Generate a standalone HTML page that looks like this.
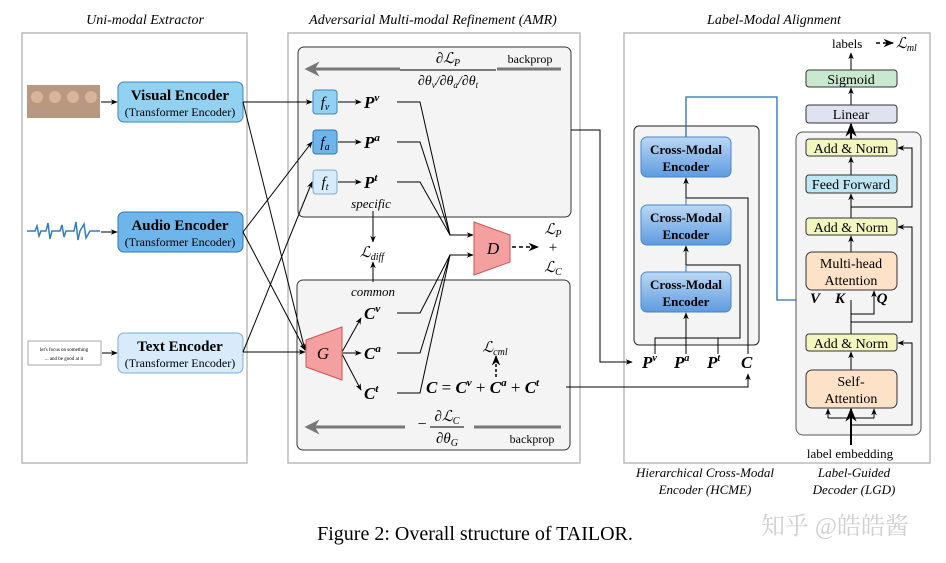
<!DOCTYPE html>
<html><head><meta charset="utf-8"><style>
body{margin:0;background:#fff}
svg{display:block}
text{font-family:"Liberation Serif","Noto Serif CJK SC",serif}
.it{font-style:italic}
.bi{font-style:italic;font-weight:bold}
</style></head><body>
<svg width="946" height="563" viewBox="0 0 946 563" xmlns="http://www.w3.org/2000/svg">
<defs>
<marker id="a" viewBox="0 0 10 10" refX="9" refY="5" markerWidth="7" markerHeight="7" orient="auto"><path d="M0,1 L10,5 L0,9 L3,5z" fill="#000"/></marker>
<marker id="ab" viewBox="0 0 10 10" refX="9" refY="5" markerWidth="7" markerHeight="7" orient="auto"><path d="M0,1 L10,5 L0,9 L3,5z" fill="#2a6fb0"/></marker>
<marker id="ag" viewBox="0 0 10 10" refX="5" refY="5" markerWidth="5" markerHeight="5" orient="auto"><path d="M0,0 L10,5 L0,10 L3,5z" fill="#777"/></marker>
</defs>
<g font-size="14" class="it" text-anchor="middle">
<text x="145" y="24" class="it">Uni-modal Extractor</text>
<text x="433" y="24" class="it">Adversarial Multi-modal Refinement (AMR)</text>
<text x="774" y="24" class="it">Label-Modal Alignment</text>
</g>
<rect x="22" y="33" width="225" height="430" fill="#fff" stroke="#bbb" stroke-width="1.5"/>
<rect x="288" y="33" width="292" height="430" fill="#fff" stroke="#bbb" stroke-width="1.5"/>
<rect x="624" y="33" width="306" height="430" fill="#fff" stroke="#bbb" stroke-width="1.5"/>
<rect x="298" y="47" width="273" height="170" rx="6" fill="#f4f4f4" stroke="#333"/>
<rect x="297" y="280" width="273" height="170" rx="6" fill="#f4f4f4" stroke="#333"/>
<!-- inputs -->
<rect x="27" y="85" width="73" height="33" fill="#b89880"/>
<g fill="#d9b49a"><circle cx="37" cy="97" r="6"/><circle cx="55" cy="97" r="6"/><circle cx="73" cy="97" r="6"/><circle cx="91" cy="97" r="6"/></g>
<path d="M27,231 L35,231 L37,226 L39,236 L41,231 L46,231 L48,223 L50,239 L52,231 L60,231 L62,225 L64,237 L66,231 L74,231 L76,222 L78,240 L80,231 L84,224 L86,238 L90,231 L100,231" stroke="#2f7fc0" fill="none" stroke-width="1.5"/>
<rect x="28" y="341" width="73" height="24" fill="#fff" stroke="#aaa"/>
<text x="64" y="351" font-size="5" text-anchor="middle">let's focus on something</text>
<text x="64" y="360" font-size="5" text-anchor="middle">... and be good at it</text>
<g stroke="#000" fill="none" stroke-width="1">
<line x1="101" y1="102" x2="117" y2="102" marker-end="url(#a)"/>
<line x1="101" y1="232" x2="117" y2="232" marker-end="url(#a)"/>
<line x1="102" y1="353" x2="117" y2="353" marker-end="url(#a)"/>
</g>
<rect x="118" y="82" width="125" height="40" rx="6" fill="#93d1f0" stroke="#3a86c0"/>
<rect x="118" y="212" width="125" height="40" rx="6" fill="#6db5ea" stroke="#2e78b5"/>
<rect x="118" y="333" width="125" height="40" rx="6" fill="#d7ebfb" stroke="#7aaed8"/>
<g text-anchor="middle">
<text x="180" y="100" font-size="15" font-weight="bold">Visual Encoder</text>
<text x="180" y="116" font-size="12">(Transformer Encoder)</text>
<text x="180" y="230" font-size="15" font-weight="bold">Audio Encoder</text>
<text x="180" y="246" font-size="12">(Transformer Encoder)</text>
<text x="180" y="351" font-size="15" font-weight="bold">Text Encoder</text>
<text x="180" y="367" font-size="12">(Transformer Encoder)</text>
</g>
<!-- encoder -> f / G -->
<g stroke="#000" fill="none" stroke-width="1">
<line x1="243" y1="102" x2="312" y2="102" marker-end="url(#a)"/>
<line x1="243" y1="102" x2="305" y2="350" marker-end="url(#a)"/>
<line x1="243" y1="232" x2="312" y2="142" marker-end="url(#a)"/>
<line x1="243" y1="232" x2="305" y2="350" marker-end="url(#a)"/>
<line x1="243" y1="352" x2="312" y2="182" marker-end="url(#a)"/>
<line x1="243" y1="352" x2="305" y2="352" marker-end="url(#a)"/>
</g>
<rect x="313" y="90" width="24" height="24" rx="3" fill="#93d1f0" stroke="#3a86c0"/>
<rect x="313" y="130" width="24" height="24" rx="3" fill="#6db5ea" stroke="#2e78b5"/>
<rect x="313" y="170" width="24" height="24" rx="3" fill="#d7ebfb" stroke="#7aaed8"/>
<g font-size="15" class="it" text-anchor="middle">
<text x="325" y="107">f<tspan font-size="10" dy="3">v</tspan></text>
<text x="325" y="147">f<tspan font-size="10" dy="3">a</tspan></text>
<text x="325" y="187">f<tspan font-size="10" dy="3">t</tspan></text>
</g>
<g stroke="#000" fill="none" stroke-width="1">
<line x1="338" y1="102" x2="361" y2="102" marker-end="url(#a)"/>
<line x1="338" y1="142" x2="361" y2="142" marker-end="url(#a)"/>
<line x1="338" y1="182" x2="361" y2="182" marker-end="url(#a)"/>
<polyline points="397,102 420,102 450,235 473,235" marker-end="url(#a)"/>
<polyline points="397,142 420,142 450,235"/>
<polyline points="397,182 420,182 450,235"/>
<polyline points="397,313 420,313 450,255 473,255" marker-end="url(#a)"/>
<polyline points="397,353 420,353 450,255"/>
<polyline points="397,393 420,393 450,255"/>
<line x1="373" y1="211" x2="373" y2="242" marker-end="url(#a)"/>
<line x1="373" y1="282" x2="373" y2="262" marker-end="url(#a)"/>
<line x1="342" y1="352" x2="361" y2="318" marker-end="url(#a)"/>
<line x1="342" y1="353" x2="361" y2="353" marker-end="url(#a)"/>
<line x1="342" y1="354" x2="361" y2="390" marker-end="url(#a)"/>
<line x1="512" y1="247" x2="538" y2="247" stroke-dasharray="4,3" stroke-width="1.5" marker-end="url(#a)"/>
<line x1="496" y1="377" x2="496" y2="356" stroke-dasharray="3,2" stroke-width="1.5" marker-end="url(#a)"/>
</g>
<g font-size="17" class="bi">
<text x="364" y="108">P<tspan font-size="11" dy="-7">v</tspan></text>
<text x="364" y="148">P<tspan font-size="11" dy="-7">a</tspan></text>
<text x="364" y="188">P<tspan font-size="11" dy="-7">t</tspan></text>
<text x="364" y="319">C<tspan font-size="11" dy="-7">v</tspan></text>
<text x="364" y="359">C<tspan font-size="11" dy="-7">a</tspan></text>
<text x="364" y="399">C<tspan font-size="11" dy="-7">t</tspan></text>
</g>
<text x="426" y="393" font-size="17"><tspan class="bi">C</tspan> = <tspan class="bi">C</tspan><tspan class="bi" font-size="11" dy="-7">v</tspan><tspan dy="7"> + </tspan><tspan class="bi">C</tspan><tspan class="bi" font-size="11" dy="-7">a</tspan><tspan dy="7"> + </tspan><tspan class="bi">C</tspan><tspan class="bi" font-size="11" dy="-7">t</tspan></text>
<g font-size="13" class="it" text-anchor="middle">
<text x="371" y="208">specific</text>
<text x="373" y="296">common</text>
<text x="372" y="257" font-size="15">ℒ<tspan font-size="10" dy="3">diff</tspan></text>
<text x="495" y="352" font-size="15">ℒ<tspan font-size="10" dy="3">cml</tspan></text>
<text x="553" y="234" font-size="15">ℒ<tspan font-size="10" dy="3">P</tspan></text>
<text x="553" y="252" font-size="15" font-style="normal">+</text>
<text x="553" y="272" font-size="15">ℒ<tspan font-size="10" dy="3">C</tspan></text>
</g>
<polygon points="474,222 510,235 510,262 474,275" fill="#f4a0a0" stroke="#c55"/>
<text x="493" y="254" font-size="17" class="it" text-anchor="middle">D</text>
<polygon points="342,327 306,340 306,367 342,380" fill="#f4a0a0" stroke="#c55"/>
<text x="323" y="359" font-size="17" class="it" text-anchor="middle">G</text>
<!-- backprop -->
<g stroke="#777" stroke-width="3" fill="none">
<line x1="400" y1="69" x2="312" y2="69" marker-end="url(#ag)"/>
<line x1="497" y1="69" x2="561" y2="69"/>
<line x1="405" y1="427" x2="312" y2="427" marker-end="url(#ag)"/>
<line x1="474" y1="427" x2="561" y2="427"/>
</g>
<line x1="400" y1="70" x2="496" y2="70" stroke="#000"/>
<text x="448" y="63" font-size="15" class="it" text-anchor="middle">∂ℒ<tspan font-size="10" dy="3">P</tspan></text>
<text x="448" y="85" font-size="14" class="it" text-anchor="middle">∂θ<tspan font-size="9" dy="3">v</tspan><tspan dy="-3">/∂θ</tspan><tspan font-size="9" dy="3">a</tspan><tspan dy="-3">/∂θ</tspan><tspan font-size="9" dy="3">t</tspan></text>
<text x="530" y="63" font-size="12" text-anchor="middle">backprop</text>
<text x="422" y="429" font-size="16" text-anchor="middle">−</text>
<line x1="430" y1="427" x2="464" y2="427" stroke="#000"/>
<text x="447" y="421" font-size="15" class="it" text-anchor="middle">∂ℒ<tspan font-size="10" dy="3">C</tspan></text>
<text x="447" y="443" font-size="15" class="it" text-anchor="middle">∂θ<tspan font-size="10" dy="3">G</tspan></text>
<text x="532" y="443" font-size="12" text-anchor="middle">backprop</text>
<!-- connections to right -->
<g stroke="#000" fill="none" stroke-width="1">
<polyline points="571,130 600,130 600,362 632,362" marker-end="url(#a)"/>
<polyline points="566,387 748,387 748,374" marker-end="url(#a)"/>
</g>
<!-- HCME -->
<rect x="634" y="126" width="125" height="219" rx="5" fill="#f4f4f4" stroke="#222"/>
<g stroke="#000" fill="none" stroke-width="1">
<polyline points="655,354 655,338 718,338 718,354"/>
<line x1="686" y1="354" x2="686" y2="313" marker-end="url(#a)"/>
<polyline points="718,338 740,338 740,265 686,265 686,246" marker-end="url(#a)"/>
<polyline points="748,354 748,198 686,198 686,178" marker-end="url(#a)"/>
</g>
<line x1="686" y1="272" x2="686" y2="265" stroke="#2a6fb0"/>
<line x1="686" y1="205" x2="686" y2="198" stroke="#2a6fb0"/>
<defs><linearGradient id="cm" x1="0" y1="0" x2="0" y2="1"><stop offset="0" stop-color="#bcd8f4"/><stop offset="1" stop-color="#5d9be0"/></linearGradient></defs>
<rect x="641" y="137" width="90" height="40" rx="6" fill="url(#cm)" stroke="#4a86c8"/>
<rect x="641" y="205" width="90" height="40" rx="6" fill="url(#cm)" stroke="#4a86c8"/>
<rect x="641" y="272" width="90" height="40" rx="6" fill="url(#cm)" stroke="#4a86c8"/>
<g font-size="13" font-weight="bold" text-anchor="middle">
<text x="686" y="154">Cross-Modal</text><text x="686" y="171">Encoder</text>
<text x="686" y="222">Cross-Modal</text><text x="686" y="239">Encoder</text>
<text x="686" y="289">Cross-Modal</text><text x="686" y="306">Encoder</text>
</g>
<g font-size="17" class="bi">
<text x="642" y="368">P<tspan font-size="10" dy="-7">v</tspan></text>
<text x="674" y="368">P<tspan font-size="10" dy="-7">a</tspan></text>
<text x="707" y="368">P<tspan font-size="10" dy="-7">t</tspan></text>
<text x="741" y="368">C</text>
</g>
<!-- blue -->
<polyline points="686,137 686,97 777,97 777,300 852,300" fill="none" stroke="#2a6fb0" stroke-width="1.3"/>
<line x1="828" y1="300" x2="828" y2="291" stroke="#2a6fb0" stroke-width="1.3" marker-end="url(#ab)"/>
<line x1="852" y1="300" x2="852" y2="291" stroke="#2a6fb0" stroke-width="1.3" marker-end="url(#ab)"/>
<!-- LGD -->
<rect x="796" y="132" width="125" height="303" rx="7" fill="#f4f4f4" stroke="#555"/>
<g stroke="#000" fill="none" stroke-width="1">
<line x1="851" y1="445" x2="851" y2="409" stroke-width="2" marker-end="url(#a)"/>
<polyline points="828,418 828,409" marker-end="url(#a)"/>
<polyline points="874,418 874,409" marker-end="url(#a)"/>
<line x1="828" y1="418" x2="874" y2="418"/>
<polyline points="851,425 912,425 912,343 898,343" marker-end="url(#a)"/>
<line x1="851" y1="370" x2="851" y2="352" marker-end="url(#a)"/>
<line x1="851" y1="334" x2="851" y2="300"/>
<polyline points="851,314 874,314 874,291" marker-end="url(#a)"/>
<polyline points="851,322 912,322 912,227 898,227" marker-end="url(#a)"/>
<line x1="851" y1="252" x2="851" y2="236" marker-end="url(#a)"/>
<line x1="851" y1="218" x2="851" y2="194" marker-end="url(#a)"/>
<polyline points="851,207 912,207 912,148 898,148" marker-end="url(#a)"/>
<line x1="851" y1="175" x2="851" y2="157" marker-end="url(#a)"/>
<line x1="851" y1="139" x2="851" y2="124" stroke-width="2" marker-end="url(#a)"/>
<line x1="851" y1="105" x2="851" y2="88" marker-end="url(#a)"/>
<line x1="851" y1="70" x2="851" y2="53" marker-end="url(#a)"/>
<line x1="876" y1="43" x2="893" y2="43" stroke-dasharray="4,3" stroke-width="1.5" marker-end="url(#a)"/>
</g>
<rect x="806" y="70" width="91" height="17" rx="3" fill="#c9e9cf" stroke="#333"/>
<rect x="806" y="105" width="91" height="18" rx="3" fill="#dfe3f0" stroke="#333"/>
<rect x="806" y="139" width="91" height="17" rx="3" fill="#f4f6c0" stroke="#333"/>
<rect x="806" y="175" width="91" height="18" rx="3" fill="#bfe7f3" stroke="#333"/>
<rect x="806" y="218" width="91" height="17" rx="3" fill="#f4f6c0" stroke="#333"/>
<rect x="806" y="252" width="91" height="38" rx="6" fill="#fde2c8" stroke="#333"/>
<rect x="806" y="334" width="91" height="17" rx="3" fill="#f4f6c0" stroke="#333"/>
<rect x="806" y="370" width="91" height="38" rx="6" fill="#fde2c8" stroke="#333"/>
<g font-size="14" text-anchor="middle">
<text x="851" y="84">Sigmoid</text>
<text x="851" y="119">Linear</text>
<text x="851" y="153">Add &amp; Norm</text>
<text x="851" y="189">Feed Forward</text>
<text x="851" y="232">Add &amp; Norm</text>
<text x="851" y="268">Multi-head</text><text x="851" y="285">Attention</text>
<text x="851" y="348">Add &amp; Norm</text>
<text x="851" y="386">Self-</text><text x="851" y="403">Attention</text>
<text x="850" y="458" font-size="13">label embedding</text>
<text x="882" y="303" font-size="15" class="bi">Q</text>
<text x="815" y="303" font-size="15" class="bi">V</text>
<text x="840" y="303" font-size="15" class="bi">K</text>
</g>
<text x="832" y="48" font-size="13">labels</text>
<text x="896" y="48" font-size="15" class="it">ℒ<tspan font-size="10" dy="3">ml</tspan></text>
<g font-size="13" class="it" text-anchor="middle">
<text x="705" y="477">Hierarchical Cross-Modal</text>
<text x="705" y="494">Encoder (HCME)</text>
<text x="854" y="477">Label-Guided</text>
<text x="854" y="494">Decoder (LGD)</text>
</g>
<text x="475" y="540" font-size="20" text-anchor="middle">Figure 2: Overall structure of TAILOR.</text>
<text x="835" y="534" font-size="24" fill="#cfcfcf" text-anchor="middle" font-family="Noto Sans CJK SC, sans-serif">知乎 @皓皓酱</text>
</svg>
</body></html>
